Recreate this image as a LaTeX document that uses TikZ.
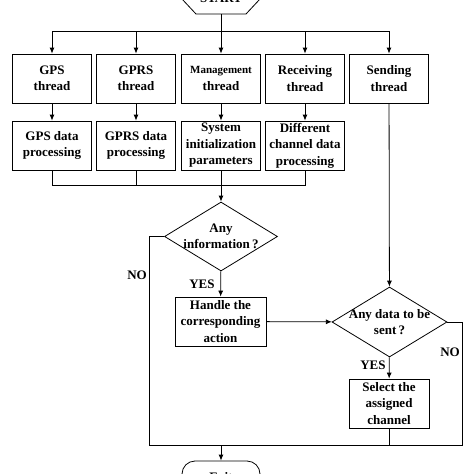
\documentclass[tikz,border=0pt]{standalone}
\usepackage{fontspec}
\setmainfont{Liberation Serif}
\usetikzlibrary{shapes.geometric,arrows.meta}
\begin{document}
\begin{tikzpicture}[x=1pt,y=-1pt,line width=0.8pt,
box/.style={draw,minimum width=79pt,minimum height=49pt,inner sep=1pt,align=center,font=\fontsize{13}{16.5}\selectfont\bfseries},
decision/.style={draw,diamond,inner sep=0pt},
txt/.style={align=center,font=\fontsize{13}{16.5}\selectfont\bfseries},
arr/.style={-{Latex[length=6pt,width=5pt]}}]
\useasboundingbox (0,0) rectangle (474,474);
\clip (0,0) rectangle (474,474);
\draw (196,14) -- (246,14) -- (260,-1) -- (260,-20) -- (246,-34) -- (196,-34) -- (182,-20) -- (182,-1) -- cycle;
\node[txt] (start) at (221,-2) {START};
\coordinate (startbot) at (221,14);
\coordinate (split) at (221,31);
\node[box] (t1) at (52,78.5) {GPS\\thread};
\node[box] (t2) at (136,78.5) {GPRS\\thread};
\node[box] (t3) at (221,78.5) {{\fontsize{11}{14}\selectfont Management}\\thread};
\node[box] (t4) at (305,78.5) {Receiving\\thread};
\node[box] (t5) at (389,78.5) {Sending\\thread};
\node[box] (p1) at (52,145.5) {GPS data\\processing};
\node[box] (p2) at (136,145.5) {GPRS data\\processing};
\node[box] (p3) at (221,145.5) {System\\initialization\\parameters};
\node[box] (p4) at (305,145.5) {Different\\channel data\\processing};
\coordinate (merge) at (221,185);
\node[decision,minimum width=113pt,minimum height=69pt] (info) at (221,236.5) {};
\node[txt] (infotext) at (info) {Any\\information\,?};
\node[box,minimum width=91pt] (handle) at (220.5,321.5) {Handle the\\corresponding\\action};
\node[decision,minimum width=115pt,minimum height=70pt] (send) at (389.5,322) {};
\node[txt] (sendtext) at (send) {Any data to be\\sent\,?};
\node[box,minimum width=80pt] (select) at (389,403.5) {Select the\\assigned\\channel};
\coordinate (join) at (221,445);
\coordinate (nol) at (149,445);
\coordinate (nor) at (462,445);
\node[draw,rounded corners=13pt,minimum width=78pt,minimum height=32pt,txt] (exit) at (221,477) {Exit};
\draw[arr] (startbot) -- (t3);
\draw[arr] (split) -| (t1);
\draw[arr] (split) -| (t2);
\draw[arr] (split) -| (t4);
\draw[arr] (split) -| (t5);
\draw[arr] (t1) -- (p1);
\draw[arr] (t2) -- (p2);
\draw[arr] (t3) -- (p3);
\draw[arr] (t4) -- (p4);
\draw (p1) |- (merge);
\draw (p2) |- (merge);
\draw (p4) |- (merge);
\draw[arr] (p3) -- (info);
\draw (info.west) -| (nol) -- (join);
\node[txt] (no1) at (137,275) {NO};
\draw[arr] (info) -- (handle);
\node[txt] (yes1) at (202,284) {YES};
\draw[arr] (handle) -- (send);
\draw[arr] (t5) -- (send);
\draw (send.east) -| (nor) -- (join);
\node[txt] (no2) at (450,352) {NO};
\draw[arr] (send) -- (select);
\node[txt] (yes2) at (373,365) {YES};
\draw (select) -- (select |- join);
\draw[arr] (join) -- (exit);
\end{tikzpicture}
\end{document}
